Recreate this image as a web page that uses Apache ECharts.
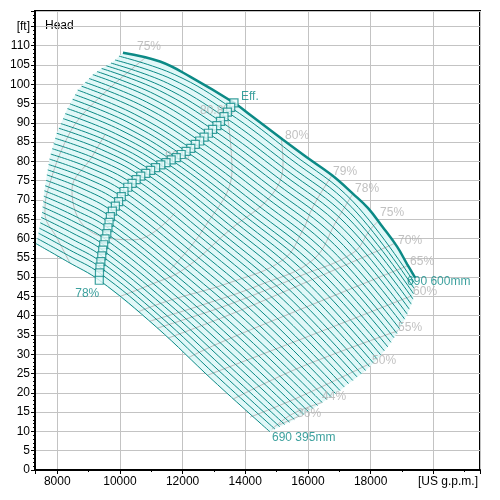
<!DOCTYPE html>
<html>
<head>
<meta charset="utf-8">
<script src="https://cdn.jsdelivr.net/npm/echarts@6/dist/echarts.min.js"></script>
<style>
html, body { margin: 0; padding: 0; background: #fff; }
#chart { width: 500px; height: 500px; }
</style>
</head>
<body>
<div id="chart"></div>
<script>
// impeller diameters (mm), one head curve each
const diameters = [600, 595, 590, 585, 580, 575, 570, 565, 560, 555, 550, 545, 540, 535, 530, 525, 520, 515, 510, 505,
  500, 495, 490, 485, 480, 475, 470, 465, 460, 455, 450, 445, 440, 435, 430, 425, 420, 415, 410, 405, 400, 395];

// full diameter curve [US gpm, ft]
const topCurve = [[10097, 108.2], [11278, 105.9], [12236, 102.0], [13640, 95.2], [14151, 92.1], [15205, 85.6], [15971, 81.0],
  [16769, 76.4], [17440, 71.6], [17918, 67.9], [18365, 63.2], [18844, 57.9], [19163, 53.4], [19418, 49.9]];

// points: left end, left middle, best efficiency point, two right points, right end
const startPts = [[10097, 108.2], [9969, 107.3], [9845, 106.3], [9714, 105.5], [9567, 104.8], [9417, 104.1], [9270, 103.3],
  [9136, 102.5], [9015, 101.5], [8894, 100.5], [8776, 99.5], [8654, 98.5], [8571, 97.3], [8492, 96.1], [8409, 94.9],
  [8326, 93.7], [8255, 92.4], [8185, 91.1], [8118, 89.8], [8051, 88.6], [7984, 87.3], [7936, 86.0], [7888, 84.6],
  [7840, 83.3], [7793, 81.9], [7754, 80.6], [7725, 79.2], [7697, 77.8], [7668, 76.5], [7642, 75.1], [7614, 73.7],
  [7591, 72.4], [7572, 71.0], [7553, 69.6], [7534, 68.2], [7515, 66.8], [7486, 65.5], [7457, 64.1], [7429, 62.7],
  [7403, 61.4], [7368, 60.0], [7320, 58.7]];
const leftMidPts = [[11869, 103.6], [11752, 102.5], [11638, 101.4], [11518, 100.3], [11388, 99.3], [11256, 98.4], [11114, 97.4],
  [10980, 96.5], [10851, 95.4], [10720, 94.4], [10591, 93.4], [10458, 92.3], [10341, 91.3], [10224, 90.3], [10104, 89.2],
  [9981, 88.3], [9863, 87.2], [9745, 86.2], [9628, 85.2], [9516, 84.2], [9405, 83.1], [9301, 82.0], [9203, 80.8],
  [9114, 79.6], [9022, 78.4], [8942, 77.1], [8884, 75.8], [8827, 74.4], [8762, 73.1], [8701, 71.7], [8655, 70.2],
  [8622, 68.8], [8595, 67.3], [8567, 65.8], [8530, 64.4], [8498, 62.9], [8468, 61.5], [8439, 60.0], [8411, 58.5],
  [8383, 57.1], [8358, 55.6], [8331, 54.0]];
const bepPts = [[13640, 95.2], [13535, 94.0], [13430, 92.8], [13321, 91.6], [13209, 90.4], [13094, 89.3], [12957, 88.3],
  [12823, 87.3], [12686, 86.3], [12545, 85.3], [12405, 84.4], [12261, 83.4], [12111, 82.6], [11955, 81.8], [11798, 81.0],
  [11636, 80.4], [11470, 79.7], [11304, 79.1], [11138, 78.4], [10981, 77.7], [10825, 76.9], [10665, 76.2], [10518, 75.3],
  [10388, 74.3], [10250, 73.3], [10129, 72.2], [10043, 70.9], [9957, 69.6], [9855, 68.4], [9759, 67.1], [9695, 65.7],
  [9653, 64.2], [9618, 62.8], [9580, 61.3], [9526, 59.9], [9481, 58.4], [9449, 57.0], [9420, 55.5], [9392, 54.0],
  [9363, 52.6], [9347, 51.1], [9341, 49.2]];
const rightPts1 = [[15566, 83.4], [15491, 82.1], [15415, 80.8], [15337, 79.4], [15257, 78.1], [15161, 76.9], [15049, 75.7],
  [14938, 74.6], [14820, 73.4], [14699, 72.3], [14579, 71.2], [14454, 70.1], [14322, 69.1], [14186, 68.1], [14049, 67.1],
  [13903, 66.4], [13755, 65.5], [13607, 64.7], [13455, 63.8], [13309, 63.0], [13163, 62.0], [13012, 61.2], [12869, 60.3],
  [12736, 59.3], [12598, 58.3], [12473, 57.2], [12370, 56.0], [12266, 54.8], [12150, 53.7], [12038, 52.5], [11947, 51.3],
  [11872, 49.9], [11800, 48.7], [11727, 47.4], [11641, 46.1], [11560, 44.9], [11488, 43.6], [11417, 42.4], [11348, 41.1],
  [11276, 39.9], [11214, 38.7], [11157, 37.1]];
const rightPts2 = [[17492, 71.0], [17447, 69.5], [17400, 68.1], [17354, 66.6], [17306, 65.1], [17228, 63.7], [17141, 62.4],
  [17054, 61.0], [16955, 59.7], [16852, 58.4], [16752, 57.1], [16647, 55.8], [16533, 54.7], [16418, 53.5], [16299, 52.3],
  [16171, 51.3], [16041, 50.2], [15911, 49.1], [15773, 48.1], [15637, 47.1], [15500, 46.0], [15360, 45.0], [15219, 44.1],
  [15084, 43.0], [14947, 42.0], [14817, 40.9], [14697, 39.7], [14574, 38.6], [14445, 37.5], [14317, 36.5], [14200, 35.3],
  [14090, 34.1], [13983, 33.0], [13874, 31.8], [13757, 30.8], [13639, 29.7], [13526, 28.6], [13415, 27.5], [13303, 26.5],
  [13189, 25.5], [13082, 24.4], [12973, 23.2]];
const endPts = [[19418, 49.9], [19402, 48.5], [19386, 47.1], [19370, 45.7], [19354, 44.3], [19296, 43.0], [19233, 41.7],
  [19169, 40.4], [19089, 39.1], [19006, 37.9], [18926, 36.6], [18840, 35.4], [18744, 34.3], [18649, 33.1], [18550, 31.9],
  [18438, 30.9], [18326, 29.8], [18214, 28.7], [18090, 27.7], [17965, 26.8], [17838, 25.8], [17707, 24.9], [17570, 24.1],
  [17432, 23.2], [17295, 22.4], [17161, 21.5], [17024, 20.6], [16883, 19.8], [16740, 19.0], [16596, 18.3], [16452, 17.5],
  [16309, 16.7], [16165, 15.9], [16021, 15.1], [15872, 14.4], [15718, 13.8], [15565, 13.1], [15412, 12.4], [15259, 11.8],
  [15102, 11.2], [14949, 10.6], [14789, 9.9]];

// efficiency lines
const effLines = [
  [[15700, 13.9], [15050, 11.6]],
  [[16449, 17.5], [15500, 14.5], [14850, 10.6]],
  [[17981, 27.6], [15747, 19.0], [14151, 13.7]],
  [[18875, 36.1], [15747, 26.6], [13615, 18.4]],
  [[19322, 45.2], [15747, 33.8], [12800, 24.6]],
  [[19195, 53.0], [15747, 41.6], [13194, 33.0], [12200, 29.2]],
  [[18811, 58.9], [15747, 48.0], [13513, 40.3], [11540, 34.2]],
  [[18240, 64.5], [17982, 62.3], [17440, 56.3], [15747, 50.3], [13513, 43.0], [11900, 38.6], [11200, 36.8]],
  [[17430, 71.6], [16929, 64.9], [16163, 54.5], [14470, 48.0], [12555, 42.6], [10960, 38.6]],
  [[16760, 76.3], [16162, 68.3], [15843, 62.3], [15205, 54.5], [13513, 48.6], [11597, 44.0], [10600, 41.1]],
  [[15150, 86.0], [15205, 79.7], [14853, 71.4], [13513, 62.3], [12013, 51.9], [10959, 48.0], [10000, 45.0]],
  [[13449, 90.9], [13577, 77.9], [12651, 62.3], [11597, 51.9]],
  [[9526, 87.0], [9108, 81.2], [8469, 72.7], [8980, 62.3], [10480, 59.7], [11756, 66.7]],
  [[10800, 106.8], [9044, 94.2], [8342, 86.5], [7703, 72.7], [7607, 66.7], [8022, 59.7], [8405, 53.7]]
];
const effLabels = [[10544, 109.8, '75%'], [12555, 93.2, '80.8%'], [15269, 86.7, '80%'], [16801, 77.3, '79%'],
  [17504, 72.9, '78%'], [18302, 66.7, '75%'], [18877, 59.4, '70%'], [19260, 53.9, '65%'], [19354, 46.2, '60%'],
  [18876, 36.9, '55%'], [18046, 28.3, '50%'], [16450, 19.0, '44%'], [15652, 14.6, '36%'], [11440, 81.2, '80%']];

const teal = '#0c8a86';
const font = '"Liberation Sans", Arial, sans-serif';

let chart = echarts.init(document.getElementById('chart'));

let curves = diameters.map((d, i) => i === 0 ? topCurve
  : [startPts[i], leftMidPts[i], bepPts[i], rightPts1[i], rightPts2[i], endPts[i]]);
let last = curves.length - 1;
let outline = [].concat(topCurve, endPts.slice(1), curves[last].slice().reverse(), startPts.slice(1, last).reverse());

let series = [];
series.push({
  type: 'custom',
  silent: true,
  clip: true,
  z: 1,
  renderItem: (params, api) => ({
    type: 'polygon',
    shape: { points: outline.map(p => api.coord(p)) },
    style: { fill: '#e1f8f8' }
  }),
  data: [topCurve[0]]
});
effLines.forEach(l => {
  series.push({
    type: 'line', data: l, smooth: 0.4, symbol: 'none', silent: true, z: 2,
    lineStyle: { color: '#bcbcbc', width: 1 }
  });
});
curves.forEach((c, i) => {
  series.push({
    type: 'line', name: diameters[i] + 'mm', data: c, smooth: 0.4, symbol: 'none', silent: true, z: 3,
    lineStyle: { color: teal, width: i === 0 ? 2.5 : 1 }
  });
});
series.push({
  type: 'scatter', silent: true, z: 3,
  symbolSize: 1, itemStyle: { color: 'transparent' },
  label: { show: true, position: 'inside', align: 'left', verticalAlign: 'middle', color: '#b2b2b2', fontSize: 12, fontFamily: font },
  data: effLabels.map(l => ({ value: [l[0], l[1]], label: { formatter: l[2] } }))
});
series.push({
  type: 'scatter', silent: true, z: 4,
  data: bepPts, symbol: 'rect', symbolSize: 8,
  itemStyle: { color: '#e9fbfb', borderColor: teal, borderWidth: 1.2 }
});
series.push({
  type: 'scatter', silent: true, z: 5,
  symbolSize: 1, itemStyle: { color: 'transparent' },
  label: { show: true, position: 'inside', align: 'left', verticalAlign: 'middle', color: teal, fontSize: 12, fontFamily: font },
  data: [
    { value: bepPts[0], label: { formatter: 'Eff.', offset: [7, -6] } },
    { value: bepPts[last], label: { formatter: '78%', offset: [-24, 13] } },
    { value: endPts[0], label: { formatter: '690 ' + diameters[0] + 'mm', offset: [-8, 4] } },
    { value: endPts[last], label: { formatter: '690 ' + diameters[last] + 'mm', offset: [2, 6] } }
  ]
});

let option = {
  animation: false,
  grid: { left: 35, right: 20, top: 11, bottom: 30, show: true, borderColor: '#000', borderWidth: 2 },
  xAxis: {
    type: 'value', min: 7290, max: 21490, splitNumber: 7,
    axisLine: { lineStyle: { color: '#000', width: 2 } },
    axisTick: { length: 4, lineStyle: { color: '#000' } },
    minorTick: { show: true, splitNumber: 2, length: 2, lineStyle: { color: '#000' } },
    splitLine: { lineStyle: { color: '#c3c3c3' } },
    axisLabel: {
      color: '#000', fontSize: 12, fontFamily: font, margin: 6,
      showMinLabel: false, showMaxLabel: false,
      formatter: v => v === 20000 ? '' : v
    }
  },
  yAxis: {
    type: 'value', min: 0, max: 119, interval: 5,
    axisLine: { lineStyle: { color: '#000', width: 2 } },
    axisTick: { length: 4, lineStyle: { color: '#000' } },
    minorTick: { show: true, splitNumber: 5, length: 2, lineStyle: { color: '#000' } },
    splitLine: { lineStyle: { color: '#c3c3c3' } },
    axisLabel: {
      color: '#000', fontSize: 12, fontFamily: font, margin: 5,
      showMaxLabel: false,
      formatter: v => v === 115 ? '[ft]' : v
    }
  },
  graphic: [
    { type: 'text', left: 45, top: 20, style: { text: 'Head', font: '12px ' + font, fill: '#000' } },
    { type: 'text', right: 22, top: 476, style: { text: '[US g.p.m.]', font: '12px ' + font, fill: '#000' } }
  ],
  series: series
};
chart.setOption(option);
</script>
</body>
</html>
